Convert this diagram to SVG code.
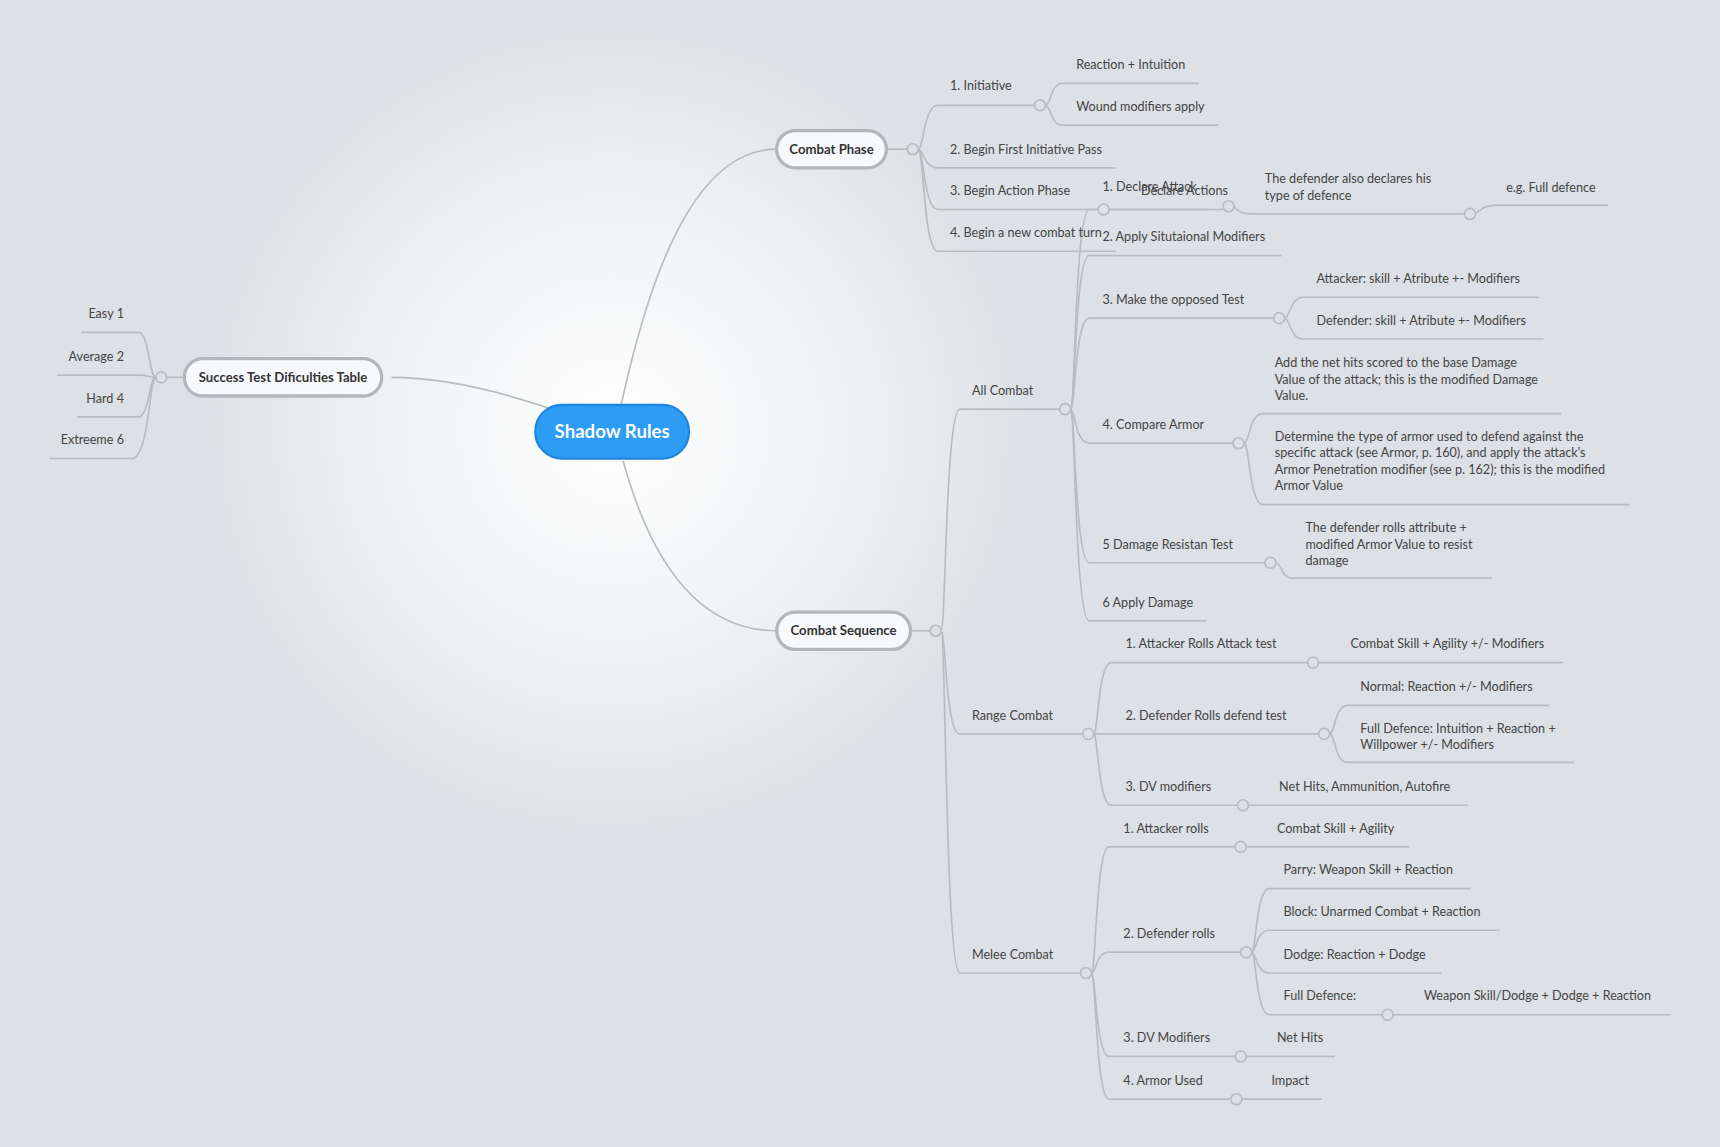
<svg xmlns="http://www.w3.org/2000/svg" width="1720" height="1147" viewBox="0 0 1720 1147">
<defs>
<radialGradient id="bg" cx="613" cy="430" r="420" gradientUnits="userSpaceOnUse">
<stop offset="0" stop-color="#ffffff"/><stop offset="0.6" stop-color="#eef0f2"/><stop offset="1" stop-color="#dde0e4"/>
</radialGradient>
<style>
.c{fill:none;stroke:#b9bcbf;stroke-width:1.5}
.k{fill:#dde0e4;stroke:#b9bcbf;stroke-width:1.5}
.t{font-family:Lato,"Open Sans",sans-serif;font-size:11.5px;fill:#444}
.n{fill:#f7f9fc;stroke:#b3b6ba;stroke-width:3}
.nt{font-family:Lato,"Open Sans",sans-serif;font-size:12px;font-weight:bold;fill:#333;text-anchor:middle}
</style>
</defs>
<rect width="1720" height="1147" fill="#dde0e4"/>
<rect width="1720" height="1147" fill="url(#bg)"/>
<g transform="scale(1.097)">
<g id="connectors">
<path class="c" d="M500 372 C450 355 400 344 357 344"/>
<path class="c" d="M566 370 C590 260 630 136 708 136"/>
<path class="c" d="M568 420 C590 500 630 575 708 575"/>
<path class="c" d="M168 344 H152"/>
<path class="c" d="M142 344 C136 344 136 303 126 303 H74"/>
<path class="c" d="M142 344 C136 344 136 342 126 342 H52"/>
<path class="c" d="M142 344 C136 344 136 380 126 380 H70"/>
<path class="c" d="M142 344 C136 344 136 418 120 418 H45"/>
<path class="c" d="M808 136 H827"/>
<path class="c" d="M837 136 C842 136 842 96 855 96 H943"/>
<path class="c" d="M837 136 C842 136 842 153 855 153 H1017"/>
<path class="c" d="M837 136 C842 136 842 191 855 191 H1115"/>
<path class="c" d="M837 136 C842 136 842 229 855 229 H1017"/>
<path class="c" d="M953 96 C958 96 958 76 968 76 H1093"/>
<path class="c" d="M953 96 C958 96 958 114 968 114 H1111"/>
<path class="c" d="M1125 188 C1130 195 1135 195 1145 195 H1335"/>
<path class="c" d="M1345 195 C1350 190 1355 187 1365 187 H1466"/>
<path class="c" d="M830 575 H848"/>
<path class="c" d="M858 575 C862 575 862 373 875 373 H966"/>
<path class="c" d="M858 575 C862 575 862 669 875 669 H987"/>
<path class="c" d="M858 575 C862 575 862 887 875 887 H985"/>
<path class="c" d="M976 373 C980 373 980 191 993 191 H1100"/>
<path class="c" d="M976 373 C980 373 980 233 993 233 H1168"/>
<path class="c" d="M976 373 C980 373 980 290 993 290 H1161"/>
<path class="c" d="M976 373 C980 373 980 404 993 404 H1124"/>
<path class="c" d="M976 373 C980 373 980 513 993 513 H1153"/>
<path class="c" d="M976 373 C980 373 980 566 993 566 H1100"/>
<path class="c" d="M1171 290 C1176 290 1176 271 1188 271 H1403"/>
<path class="c" d="M1171 290 C1176 290 1176 309 1188 309 H1407"/>
<path class="c" d="M1134 404 C1139 404 1139 377 1151 377 H1423"/>
<path class="c" d="M1134 404 C1139 404 1139 460 1151 460 H1485"/>
<path class="c" d="M1163 513 C1168 513 1168 527 1178 527 H1360"/>
<path class="c" d="M997 669 C1001 669 1001 604 1013 604 H1192"/>
<path class="c" d="M997 669 C1001 669 1001 669 1013 669 H1202"/>
<path class="c" d="M997 669 C1001 669 1001 734 1013 734 H1128"/>
<path class="c" d="M1202 604 H1425"/>
<path class="c" d="M1212 669 C1217 669 1217 643 1228 643 H1412"/>
<path class="c" d="M1212 669 C1217 669 1217 695 1228 695 H1435"/>
<path class="c" d="M1138 734 H1338"/>
<path class="c" d="M995 887 C999 887 999 772 1011 772 H1126"/>
<path class="c" d="M995 887 C999 887 999 868 1011 868 H1131"/>
<path class="c" d="M995 887 C999 887 999 963 1011 963 H1126"/>
<path class="c" d="M995 887 C999 887 999 1002 1011 1002 H1122"/>
<path class="c" d="M1136 772 H1285"/>
<path class="c" d="M1141 868 C1145 868 1145 810 1157 810 H1340"/>
<path class="c" d="M1141 868 C1145 868 1145 848 1157 848 H1367"/>
<path class="c" d="M1141 868 C1145 868 1145 887 1157 887 H1314"/>
<path class="c" d="M1141 868 C1145 868 1145 925 1157 925 H1260"/>
<path class="c" d="M1270 925 H1522"/>
<path class="c" d="M1136 963 H1217"/>
<path class="c" d="M1132 1002 C1136 1002 1136 1002 1142 1002 H1205"/>
<circle class="k" cx="147" cy="344" r="5"/>
<circle class="k" cx="832" cy="136" r="5"/>
<circle class="k" cx="948" cy="96" r="5"/>
<circle class="k" cx="1120" cy="188" r="5"/>
<circle class="k" cx="1006" cy="191" r="5"/>
<circle class="k" cx="1340" cy="195" r="5"/>
<circle class="k" cx="853" cy="575" r="5"/>
<circle class="k" cx="971" cy="373" r="5"/>
<circle class="k" cx="1166" cy="290" r="5"/>
<circle class="k" cx="1129" cy="404" r="5"/>
<circle class="k" cx="1158" cy="513" r="5"/>
<circle class="k" cx="992" cy="669" r="5"/>
<circle class="k" cx="1197" cy="604" r="5"/>
<circle class="k" cx="1207" cy="669" r="5"/>
<circle class="k" cx="1133" cy="734" r="5"/>
<circle class="k" cx="990" cy="887" r="5"/>
<circle class="k" cx="1131" cy="772" r="5"/>
<circle class="k" cx="1136" cy="868" r="5"/>
<circle class="k" cx="1265" cy="925" r="5"/>
<circle class="k" cx="1131" cy="963" r="5"/>
<circle class="k" cx="1127" cy="1002" r="5"/>
</g>
<g id="root"><rect x="488" y="369" width="140" height="49" rx="24" fill="#2d9cf4" stroke="#1f86e0" stroke-width="2"/>
<text x="558" y="399" font-family="Lato,'Open Sans',sans-serif" font-size="17" font-weight="bold" fill="#fff" text-anchor="middle">Shadow Rules</text></g>
<g id="success"><rect class="n" x="168" y="327" width="180" height="34" rx="17"/><text class="nt" x="258" y="348">Success Test Dificulties Table</text></g>
<g id="phase"><rect class="n" x="708" y="119" width="100" height="34" rx="17"/><text class="nt" x="758" y="140">Combat Phase</text></g>
<g id="sequence"><rect class="n" x="708" y="558" width="122" height="34" rx="17"/><text class="nt" x="769" y="579">Combat Sequence</text></g>
<g id="labels">
<text class="t" x="113" y="290" text-anchor="end">Easy 1</text>
<text class="t" x="113" y="329" text-anchor="end">Average 2</text>
<text class="t" x="113" y="367" text-anchor="end">Hard 4</text>
<text class="t" x="113" y="405" text-anchor="end">Extreeme 6</text>
<text class="t" x="866" y="82">1. Initiative</text>
<text class="t" x="866" y="140">2. Begin First Initiative Pass</text>
<text class="t" x="866" y="178">3. Begin Action Phase</text>
<text class="t" x="866" y="216">4. Begin a new combat turn</text>
<text class="t" x="981" y="63">Reaction + Intuition</text>
<text class="t" x="981" y="101">Wound modifiers apply</text>
<text class="t" x="1040" y="178">Declare Actions</text>
<text class="t" x="1153" y="167">The defender also declares his</text>
<text class="t" x="1153" y="182">type of defence</text>
<text class="t" x="1373" y="175">e.g. Full defence</text>
<text class="t" x="886" y="360">All Combat</text>
<text class="t" x="886" y="656">Range Combat</text>
<text class="t" x="886" y="874">Melee Combat</text>
<text class="t" x="1005" y="174">1. Declare Attack</text>
<text class="t" x="1005" y="220">2. Apply Situtaional Modifiers</text>
<text class="t" x="1005" y="277">3. Make the opposed Test</text>
<text class="t" x="1200" y="258">Attacker: skill + Atribute +- Modifiers</text>
<text class="t" x="1200" y="296">Defender: skill + Atribute +- Modifiers</text>
<text class="t" x="1005" y="391">4. Compare Armor</text>
<text class="t" x="1162" y="335">Add the net hits scored to the base Damage</text>
<text class="t" x="1162" y="350">Value of the attack; this is the modified Damage</text>
<text class="t" x="1162" y="365">Value.</text>
<text class="t" x="1162" y="402">Determine the type of armor used to defend against the</text>
<text class="t" x="1162" y="417">specific attack (see Armor, p. 160), and apply the attack’s</text>
<text class="t" x="1162" y="432">Armor Penetration modifier (see p. 162); this is the modified</text>
<text class="t" x="1162" y="447">Armor Value</text>
<text class="t" x="1005" y="500">5 Damage Resistan Test</text>
<text class="t" x="1190" y="485">The defender rolls attribute +</text>
<text class="t" x="1190" y="500">modified Armor Value to resist</text>
<text class="t" x="1190" y="515">damage</text>
<text class="t" x="1005" y="553">6 Apply Damage</text>
<text class="t" x="1026" y="591">1. Attacker Rolls Attack test</text>
<text class="t" x="1231" y="591">Combat Skill + Agility +/- Modifiers</text>
<text class="t" x="1026" y="656">2. Defender Rolls defend test</text>
<text class="t" x="1240" y="630">Normal: Reaction +/- Modifiers</text>
<text class="t" x="1240" y="668">Full Defence: Intuition + Reaction +</text>
<text class="t" x="1240" y="683">Willpower +/- Modifiers</text>
<text class="t" x="1026" y="721">3. DV modifiers</text>
<text class="t" x="1166" y="721">Net Hits, Ammunition, Autofire</text>
<text class="t" x="1024" y="759">1. Attacker rolls</text>
<text class="t" x="1164" y="759">Combat Skill + Agility</text>
<text class="t" x="1024" y="855">2. Defender rolls</text>
<text class="t" x="1170" y="797">Parry: Weapon Skill + Reaction</text>
<text class="t" x="1170" y="835">Block: Unarmed Combat + Reaction</text>
<text class="t" x="1170" y="874">Dodge: Reaction + Dodge</text>
<text class="t" x="1170" y="912">Full Defence:</text>
<text class="t" x="1298" y="912">Weapon Skill/Dodge + Dodge + Reaction</text>
<text class="t" x="1024" y="950">3. DV Modifiers</text>
<text class="t" x="1164" y="950">Net Hits</text>
<text class="t" x="1024" y="989">4. Armor Used</text>
<text class="t" x="1159" y="989">Impact</text>
</g>
</g>
</svg>
